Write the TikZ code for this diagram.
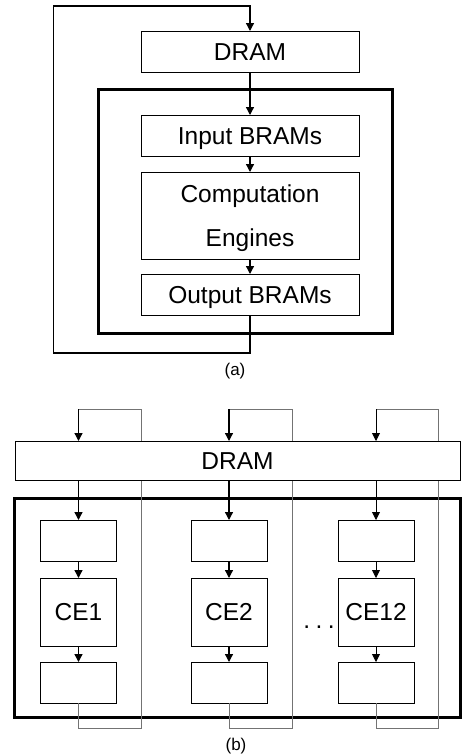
\documentclass[tikz,border=0pt]{standalone}
\usepackage{fontspec}
\setmainfont{Liberation Sans}
\usetikzlibrary{arrows.meta}
\begin{document}
\begin{tikzpicture}[x=1pt,y=-1pt,
  box/.style={draw=black,line width=0.9pt,fill=white,inner sep=0pt,outer sep=0pt,
    text height=17.6pt,text depth=0pt,font=\fontsize{24.5}{29}\selectfont},
  frame/.style={draw=black,line width=3pt,inner sep=0pt,outer sep=0pt},
  flow/.style={line width=1.3pt,-{Triangle[width=8pt,length=8pt]}},
  ret/.style={draw=black!55,line width=1pt},
  lbl/.style={font=\fontsize{17}{20}\selectfont,inner sep=0pt,anchor=base},
  txt/.style={font=\fontsize{24.5}{29}\selectfont,inner sep=0pt,anchor=base}]
\useasboundingbox (0,0) rectangle (474,755);

% ---------------- (a) ----------------
\node[frame,minimum width=294pt,minimum height=244pt] (frameA) at (245,211) {};
\node[box,minimum width=218pt,minimum height=41pt] (dramA) at (250,51.5) {DRAM};
\node[box,minimum width=218pt,minimum height=41pt] (inA) at (250,135.5) {Input BRAMs};
\node[box,minimum width=218pt,minimum height=87pt] (compA) at (250,215.5) {};
\node[txt] (compT1) at (250,202) {Computation};
\node[txt] (compT2) at (250,246.5) {Engines};
\node[box,minimum width=218pt,minimum height=41pt] (outA) at (250,294.5) {Output BRAMs};
\draw[flow] (dramA.south) -- (inA.north);
\draw[flow] (inA.south) -- (compA.north);
\draw[flow] (compA.south) -- (outA.north);
\coordinate (aBL) at (53.5,353);
\coordinate (aTR) at (250,6);
\draw[flow] (outA.south) |- (aBL) |- (aTR) -- (dramA.north);
\node[lbl] (capA) at (235,375) {(a)};

% ---------------- (b) ----------------
\foreach \i/\cx/\rx in {1/78.5/141, 2/229/292, 3/376/438}{
  \coordinate (rb\i) at (\rx,728);
  \coordinate (rt\i) at (\rx,409);
  \coordinate (ct\i) at (\cx,409);
  \coordinate (cb\i) at (\cx,728);
}
\node[frame,minimum width=446pt,minimum height=219pt] (frameB) at (237,607.5) {};
\foreach \i/\cx/\lab/\lw in {1/78.5/CE1/1.3, 2/229/CE2/1.3, 3/376/CE12/0.9}{
  \node[box,minimum width=76pt,minimum height=41pt] (top\i) at (\cx,540.5) {};
  \node[box,minimum width=76pt,minimum height=68pt] (ce\i) at (\cx,612) {\lab};
  \node[box,minimum width=76pt,minimum height=41pt] (bot\i) at (\cx,682.5) {};
  \draw[ret] (bot\i.south) -- (cb\i) -- (rb\i) -- (rt\i) -- (ct\i);
  \draw[flow,line width=\lw pt] (top\i.south) -- (ce\i.north);
  \draw[flow,line width=\lw pt] (ce\i.south) -- (bot\i.north);
}
\node[box,minimum width=445pt,minimum height=39pt] (dramB) at (237.5,460.5) {DRAM};
\foreach \i/\lw in {1/1.3, 2/1.3, 3/0.9}{
  \draw[flow,line width=\lw pt] (ct\i) -- (ct\i |- dramB.north);
  \draw[flow,line width=\lw pt] (top\i |- dramB.south) -- (top\i.north);
}
\node[txt] (dots) at (319,628) {.\hspace{5.5pt}.\hspace{5.5pt}.};
\node[lbl] (capB) at (236,750) {(b)};
\end{tikzpicture}
\end{document}
